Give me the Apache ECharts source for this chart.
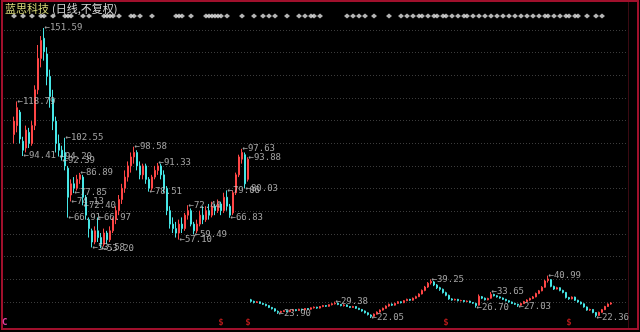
<!DOCTYPE html>
<html><head><meta charset="utf-8">
<script src="https://cdn.jsdelivr.net/npm/echarts@6/dist/echarts.min.js"></script>
<style>html,body{margin:0;padding:0;background:#000;}#c{width:640px;height:332px;}</style>
</head><body><div id="c"></div>
<script>
const stockName = '蓝思科技';
const periodText = '(日线,不复权)';
// [open, close, low, high]
const ohlc = [
[104,110,100,112],[108,116,105,118.79],[114,102,100,115],[101,97,94.41,103],[98,106,96,108],
[105,100,98,107],[100,108,99,110],[108,124,106,126],[124,138,122,144],[138,146,134,148],
[147,141,137,151.59],[140,130,126,143],[130,121,116,133],[120,110,106,124],[110,100,96,112],
[100,97,94.2,104],[97,94,92.39,99],[96,90,88,102.55],[89,76,66.91,90],[77,82,74.13,84],
[82,80,77.85,85],[80,84,79,86],[84,86,82,86.89],[85,76,72.40,86],[76,68,66,77],
[66,62,58,67],[61,56,53.58,62],[56,61,55,63],[61,58,56,66.97],[58,55,53.20,60],
[55,60,54,62],[60,57,55,61],[57,61,56,63],[61,66,60,67],[66,70,64,72],
[70,75,68,77],[75,80,73,82],[80,85,78,88],[85,90,83,92],[90,94,87,96],
[94,96,91,98.58],[96,90,88,97],[90,86,84,92],[86,90,84,91],[90,84,82,91],
[84,80,78.51,85],[80,85,79,86],[85,88,84,90],[88,90,86,91.33],[90,86,84,91],
[86,80,78,88],[80,70,68,81],[70,64,62,72],[64,62,60,67],[62,60,58,65],
[60,64,57.10,66],[64,62,60,67],[62,68,61,69],[68,70,66,72.44],[70,64,63,71],
[64,61,59.49,65],[61,64,60,66],[64,68,63,70],[68,66,64,72],[66,70,65,72],
[70,68,66,73],[68,72,67,74],[72,70,68,73],[70,73,69,75],[73,70,68,74],
[70,76,69,78],[76,72,70,79.06],[72,68,66.83,73],[69,78,68,79],[78,86,77,87],
[86,94,85,95],[93,96,91,97.63],[95,82,80.03,96],[84,93,83,93.88],
[30.2,29.5,29.0,30.6],[29.5,29.0,28.6,29.8],[29.0,29.3,28.8,29.6],[29.3,28.6,28.4,29.4],[28.6,28.2,27.9,28.8],
[28.2,27.6,27.3,28.4],[27.6,26.8,26.5,27.8],[26.8,26.2,25.9,27.0],[26.2,25.2,24.9,26.4],[25.0,24.6,23.90,25.4],
[24.6,25.0,24.3,25.3],[25.0,25.3,24.8,25.6],[25.3,24.9,24.6,25.5],[24.9,25.5,24.7,25.7],[25.5,25.8,25.2,26.1],
[25.8,25.4,25.1,26.0],[25.4,26.0,25.2,26.2],[26.0,25.7,25.4,26.2],[25.7,26.3,25.5,26.5],[26.3,26.0,25.7,26.5],
[26.0,26.6,25.8,26.8],[26.6,26.9,26.3,27.2],[26.9,26.5,26.2,27.1],[26.5,27.2,26.3,27.4],[27.2,27.6,26.9,27.9],
[27.6,27.3,27.0,27.8],[27.3,28.0,27.1,28.2],[28.0,28.4,27.7,28.7],[28.4,28.7,28.1,29.38],[28.7,28.1,27.8,28.9],
[28.1,27.6,27.3,28.3],[27.6,27.9,27.2,28.2],[27.9,27.2,27.0,28.1],[27.2,26.8,26.5,27.4],[26.8,27.2,26.6,27.5],
[27.2,26.4,26.1,27.3],[26.4,25.9,25.6,26.6],[25.9,25.2,24.9,26.1],[25.2,24.4,24.1,25.4],[24.4,23.6,23.2,24.6],
[23.4,22.8,22.05,23.7],[22.8,23.8,22.6,24.1],[23.8,24.7,23.6,25.0],[24.7,25.6,24.5,25.9],[25.6,26.4,25.4,26.7],
[26.4,27.4,26.2,27.7],[27.4,28.2,27.1,28.5],[28.2,27.8,27.5,28.6],[27.8,28.6,27.6,28.9],[28.6,29.3,28.4,29.6],
[29.3,28.9,28.6,29.5],[28.9,29.8,28.7,30.1],[29.8,30.4,29.6,30.7],[30.4,30.0,29.7,30.6],[30.0,30.9,29.8,31.2],
[30.9,31.6,30.6,32.0],[31.6,32.8,31.4,33.1],[32.8,34.4,32.6,34.8],[34.4,35.9,34.0,36.4],[35.9,37.6,35.5,38.1],
[37.8,38.4,37.0,39.25],[38.2,36.8,36.3,38.6],[36.8,35.6,35.0,37.2],[35.6,34.9,34.2,36.0],[34.9,33.4,33.0,35.2],
[33.4,32.2,31.8,33.8],[32.2,30.6,30.2,32.5],[30.6,30.1,29.8,30.9],[30.1,30.4,29.9,30.7],[30.4,29.8,29.5,30.6],
[29.8,29.9,29.5,30.2],[29.9,29.4,29.1,30.1],[29.4,29.6,29.2,29.9],[29.6,29.0,28.7,29.8],[29.0,28.7,28.4,29.2],
[28.6,27.6,26.70,28.8],[27.8,31.8,27.6,32.6],[31.6,30.9,30.5,31.9],[30.9,30.2,29.9,31.2],[30.2,30.8,30.0,31.1],
[30.9,32.6,30.7,33.65],[32.6,32.0,31.7,32.9],[32.0,31.5,31.2,32.2],[31.5,31.0,30.7,31.7],[31.0,30.4,30.1,31.2],
[30.4,29.8,29.5,30.6],[29.8,29.2,28.9,30.0],[29.2,28.6,28.3,29.4],[28.6,28.2,27.9,28.8],[28.2,27.8,27.03,28.4],
[27.8,28.5,27.6,28.8],[28.5,29.4,28.3,29.7],[29.4,30.1,29.2,30.4],[30.1,30.8,29.8,31.1],[30.8,31.5,30.5,31.9],
[31.5,33.0,31.3,33.4],[33.0,34.2,32.7,34.6],[34.2,35.8,34.0,36.3],[35.8,38.6,35.6,39.1],[38.8,39.5,37.9,40.99],
[39.2,36.2,35.8,39.4],[36.2,35.0,34.6,36.5],[35.0,35.6,34.8,36.0],[35.6,34.4,34.0,35.8],[34.4,33.5,33.1,34.7],
[33.5,31.2,30.8,33.7],[31.2,30.6,30.2,31.5],[30.6,31.4,30.4,31.7],[31.4,30.0,29.7,31.6],[30.0,29.2,28.9,30.2],
[29.2,28.4,28.1,29.4],[28.4,27.0,26.7,28.6],[27.0,25.6,25.3,27.2],[25.6,25.9,25.2,26.2],[25.9,24.5,24.2,26.0],
[24.5,23.2,22.36,24.7],[23.2,24.6,23.0,24.9],[24.6,25.8,24.4,26.1],[25.8,27.2,25.6,27.5],[27.2,28.3,27.0,28.6],
[28.3,28.8,28.0,29.1]
];
const categories = ohlc.map((d, i) => 'D' + (i + 1));
// [candle index, price] for high/low annotations
const hiLoMarks = [
[1,118.79],[3,94.41],[10,151.59],[15,94.20],[16,92.39],[17,102.55],[18,66.91],[19,74.13],[20,77.85],
[22,86.89],[23,72.40],[26,53.58],[28,66.97],[29,53.20],[40,98.58],[45,78.51],[48,91.33],[55,57.10],
[58,72.44],[60,59.49],[71,79.06],[72,66.83],[76,97.63],[77,80.03],[78,93.88],[88,23.90],[107,29.38],
[119,22.05],[139,39.25],[154,26.70],[159,33.65],[168,27.03],[178,40.99],[194,22.36]
];
const infoMineIdx = [0,3,6,9,10,13,17,18,19,23,25,30,31,32,33,35,39,40,42,46,54,55,56,59,64,65,66,67,68,69,71,76,
80,83,85,87,91,95,97,99,100,102,111,113,115,117,120,125,129,131,133,135,136,138,140,141,
143,144,146,148,150,151,153,155,157,159,161,163,165,167,169,171,173,175,177,178,180,182,184,185,187,188,191,194,196];
const dividendIdx = [69,78,144,185];

const chart = echarts.init(document.getElementById('c'), null, {renderer: 'canvas'});
const upColor = '#ff4646', downColor = '#46e6e6';
const monoFont = 'DejaVu Sans Mono';
const clear = 'rgba(0,0,0,0)';
chart.setOption({
  backgroundColor: '#000',
  animation: false,
  grid: [
    {left: 12.5, width: 600, top: 10, height: 320},
    {left: 4, right: 12, top: 30, height: 272}
  ],
  xAxis: [
    {type: 'category', data: categories, gridIndex: 0, boundaryGap: true, show: false},
    {type: 'value', gridIndex: 1, min: 0, max: 1, show: false}
  ],
  yAxis: [
    {type: 'value', gridIndex: 0, min: 16.71, max: 159.63, show: false},
    {type: 'value', gridIndex: 0, min: 0, max: 1, show: false},
    {type: 'value', gridIndex: 1, min: 0, max: 12, interval: 1,
      axisLine: {show: false}, axisTick: {show: false}, axisLabel: {show: false},
      splitLine: {show: true, lineStyle: {color: '#3c3c3c', type: [1, 2], width: 1}}}
  ],
  series: [
    {type: 'candlestick', xAxisIndex: 0, yAxisIndex: 0, data: ohlc, barWidth: 2, z: 3,
      itemStyle: {color: upColor, color0: downColor, borderColor: upColor, borderColor0: downColor, borderWidth: 1}},
    {type: 'scatter', xAxisIndex: 0, yAxisIndex: 0, z: 4,
      data: hiLoMarks.map(m => [m[0], m[1]]), symbol: 'circle', symbolSize: 1, itemStyle: {color: clear},
      label: {show: true, position: 'right', distance: 0, color: '#c8c8c8', fontFamily: monoFont, fontSize: 9,
        formatter: p => '\u2190' + p.value[1].toFixed(2)}},
    {type: 'scatter', xAxisIndex: 0, yAxisIndex: 1, z: 4,
      data: infoMineIdx.map(i => [i, 1]), symbol: 'diamond', symbolSize: [6, 5], symbolOffset: [0, 6],
      itemStyle: {color: '#e0e0e0'}},
    {type: 'scatter', xAxisIndex: 0, yAxisIndex: 1, z: 4,
      data: dividendIdx.map(i => [i, 0]), symbol: 'circle', symbolSize: 1, itemStyle: {color: clear},
      label: {show: true, position: 'inside', offset: [0, -7], formatter: '$', color: '#e02020', fontFamily: monoFont, fontSize: 9, fontWeight: 'bold'}}
  ],
  graphic: [
    {type: 'rect', shape: {x: 2, y: 1, width: 636, height: 328}, style: {fill: 'none', stroke: '#a0102c', lineWidth: 2}, z: 10},
    {type: 'line', shape: {x1: 628.5, y1: 2, x2: 628.5, y2: 329}, style: {stroke: '#3a0a12', lineWidth: 1}, z: 1},
    {type: 'text', left: 5, top: 3, style: {text: stockName, fill: '#d8d878', font: '11px "Noto Sans CJK SC"'}, z: 11},
    {type: 'text', left: 52, top: 3, style: {text: periodText, fill: '#d8d8d8', font: '11px "Noto Sans CJK SC"'}, z: 11},
    {type: 'text', left: 2, top: 318, style: {text: 'C', fill: '#e040a0', font: 'bold 9px "DejaVu Sans Mono"'}, z: 11}
  ]
});
</script></body></html>
